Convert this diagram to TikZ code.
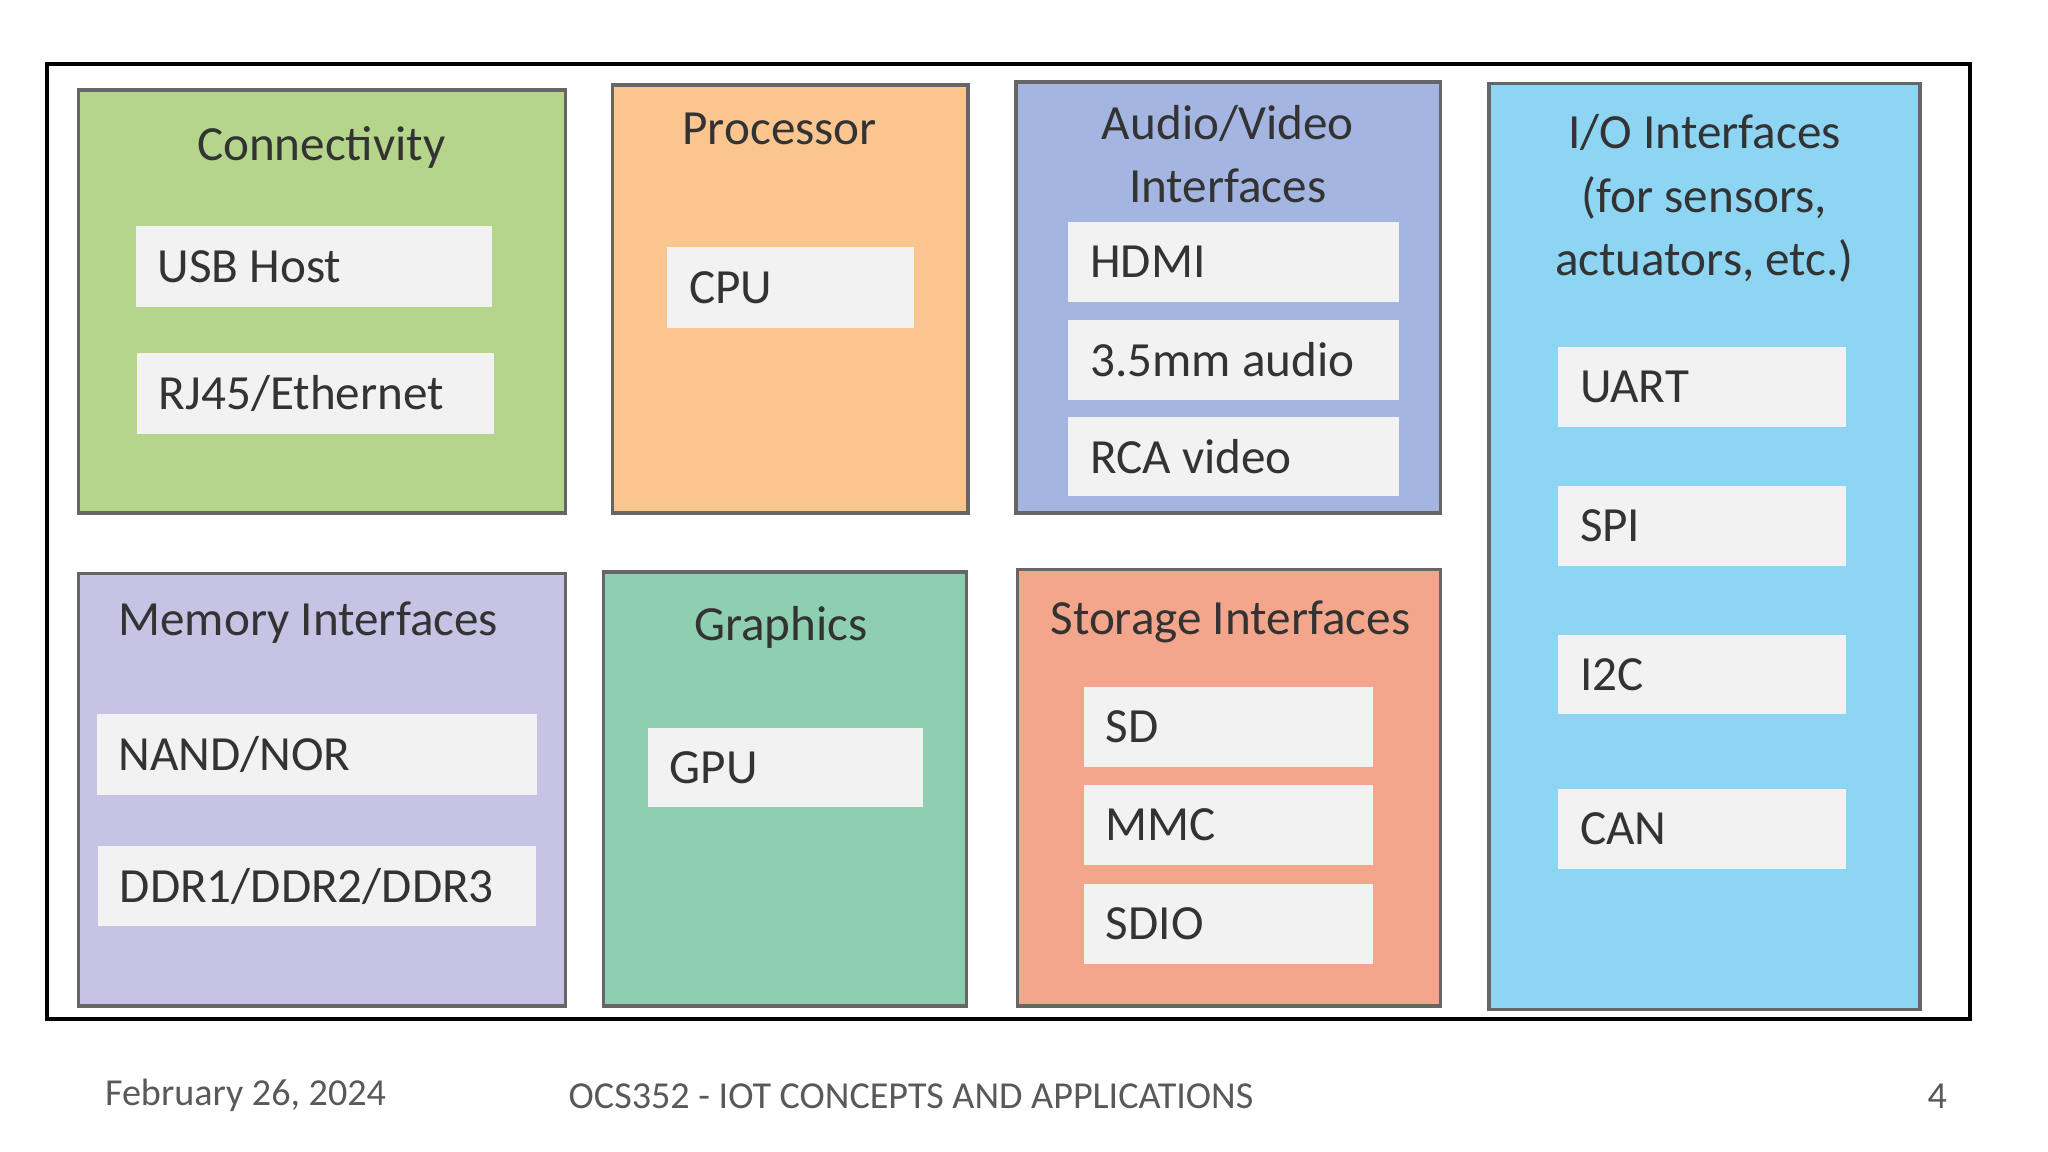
\documentclass[tikz,border=0pt]{standalone}
\usepackage{fontspec}
\setmainfont{Carlito}
\definecolor{cgreen}{HTML}{B5D68A}
\definecolor{corange}{HTML}{FBC58F}
\definecolor{cblue}{HTML}{A3B5E0}
\definecolor{clblue}{HTML}{8ED4F3}
\definecolor{clav}{HTML}{C6C3E4}
\definecolor{cteal}{HTML}{8ECFB2}
\definecolor{csalmon}{HTML}{F4A68C}
\definecolor{cinner}{HTML}{F2F2F2}
\definecolor{cfoot}{HTML}{595959}
\definecolor{ctext}{HTML}{333333}
\begin{document}
\begin{tikzpicture}[x=0.01cm,y=-0.01cm,
  grp/.style={draw=gray!80!black,line width=0.8pt},
  ttl/.style={font=\fontsize{10.7}{12.8}\selectfont,text=ctext,align=center},
  item/.style={fill=cinner,text=ctext,font=\fontsize{10.7}{12.8}\selectfont,anchor=west,inner sep=0pt},
  foot/.style={font=\fontsize{8.3}{10}\selectfont,text=cfoot}]
\useasboundingbox (0,0) rectangle (1568,882);
\fill[white] (0,0) rectangle (1568,882);
\draw[line width=0.9pt] (36,49) rectangle (1508,780);
% groups
\draw[grp,fill=cgreen] (60,69) rectangle (433,393);
\draw[grp,fill=corange] (469,65) rectangle (741,393);
\draw[grp,fill=cblue] (778,63) rectangle (1103,393);
\draw[grp,fill=clblue] (1140,64) rectangle (1470,773);
\draw[grp,fill=clav] (60,439) rectangle (433,770);
\draw[grp,fill=cteal] (462,438) rectangle (740,770);
\draw[grp,fill=csalmon] (779,436) rectangle (1103,770);
% titles
\node[ttl] (t1) at (246,113) {Connectivity};
\node[ttl] (t2) at (597,99) {Processor};
\node[ttl] (t3) at (940,118) {Audio/Video\\[1pt]Interfaces};
\node[ttl] (t4) at (1305,152) {I/O Interfaces\\[1pt](for sensors,\\[1pt]actuators, etc.)};
\node[ttl] (t5) at (236,477) {Memory Interfaces};
\node[ttl] (t6) at (598,480) {Graphics};
\node[ttl] (t7) at (942,476) {Storage Interfaces};
% items
\newcommand{\itm}[6]{\fill[cinner] (#1,#2) rectangle (#3,#4); \node[item] (#5) at (#1+16,{(#2+#4)/2}) {#6};}
\itm{104}{173}{377}{235}{usb}{USB Host}
\itm{105}{270}{378}{332}{rj}{RJ45/Ethernet}
\itm{511}{189}{700}{251}{cpu}{CPU}
\itm{818}{170}{1071}{231}{hdmi}{HDMI}
\itm{818}{245}{1071}{306}{aud}{3.5mm audio}
\itm{818}{319}{1071}{380}{rca}{RCA video}
\itm{1193}{266}{1413}{327}{uart}{UART}
\itm{1193}{372}{1413}{433}{spi}{SPI}
\itm{1193}{486}{1413}{547}{iic}{I2C}
\itm{1193}{604}{1413}{665}{can}{CAN}
\itm{74}{547}{411}{609}{nand}{NAND/NOR}
\itm{75}{648}{410}{709}{ddr}{DDR1/DDR2/DDR3}
\itm{496}{557}{707}{618}{gpu}{GPU}
\itm{830}{526}{1051}{587}{sd}{SD}
\itm{830}{601}{1051}{662}{mmc}{MMC}
\itm{830}{677}{1051}{738}{sdio}{SDIO}
% footer
\node[foot,anchor=west] (f1) at (68,839) {February 26, 2024};
\node[foot,anchor=west] (f2) at (423,839) {OCS352 - IOT CONCEPTS AND APPLICATIONS};
\node[foot,anchor=east] (f3) at (1503,839) {4};
\end{tikzpicture}
\end{document}
